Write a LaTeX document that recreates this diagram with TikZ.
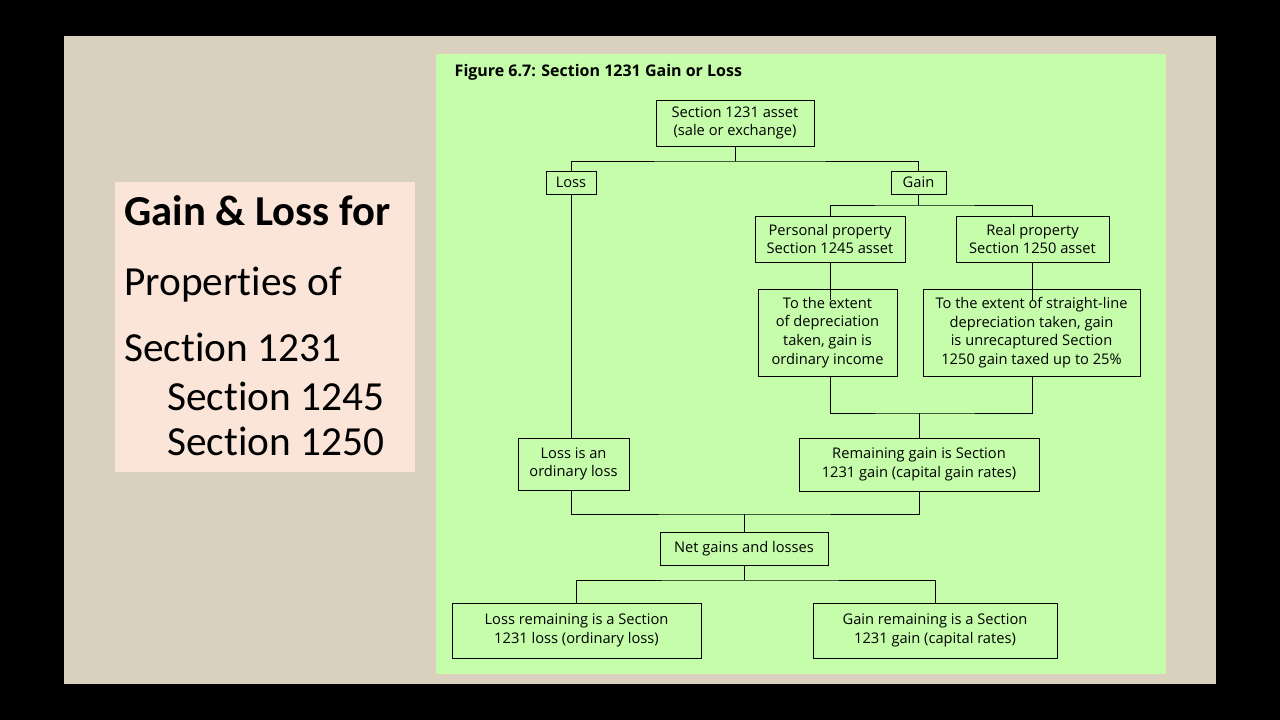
\documentclass[tikz,border=0pt]{standalone}
\usepackage{fontspec}
\setmainfont{Open Sans}
\newfontfamily\calib[Ligatures={NoCommon}]{Carlito}
\definecolor{bgbeige}{HTML}{D9D0BD}
\definecolor{panelgreen}{HTML}{C5FDAA}
\definecolor{pinkbox}{HTML}{FBE4D8}
\begin{document}
\begin{tikzpicture}[x=0.75pt,y=-0.75pt,
  bx/.style={draw=black,line width=0.7pt,align=center,font=\fontsize{11}{14}\selectfont,inner sep=0pt},
  ln/.style={draw=black,line width=0.7pt},
  lt/.style={anchor=base west,inner sep=0,font=\calib\fontsize{31}{34}\selectfont}]
\fill[black] (0,0) rectangle (1280,720);
\fill[bgbeige] (64,36) rectangle (1216,684);
\fill[panelgreen] (436,54) rectangle (1166,674);
\fill[pinkbox] (115,182) rectangle (415,472);
\node[anchor=west,font=\bfseries\fontsize{12}{14}\selectfont] (title) at (450,72) {Figure 6.7: Section 1231 Gain or Loss};
\node[lt,font=\calib\bfseries\fontsize{32}{34}\selectfont] (l1) at (124,226) {Gain \& Loss for};
\node[lt] (l2) at (124,295) {Proper\kern0pt ties of};
\node[lt] (l3) at (124,361) {Sec\kern0pt tion 1231};
\node[lt] (l4) at (167,410) {Sec\kern0pt tion 1245};
\node[lt] (l5) at (167,455) {Sec\kern0pt tion 1250};

\node[bx,minimum width=118.5pt,minimum height=34.5pt] (top) at (735,123) {Section 1231 asset\\(sale or exchange)};
\node[bx,minimum width=37.5pt,minimum height=17.25pt] (loss) at (571,182.5) {Loss};
\node[bx,minimum width=41.25pt,minimum height=17.25pt] (gain) at (918.5,182.5) {Gain};
\node[bx,minimum width=112.5pt,minimum height=34.5pt] (pers) at (830,239) {Personal property\\Section 1245 asset};
\node[bx,minimum width=114.75pt,minimum height=34.5pt] (real) at (1032.5,239) {Real property\\Section 1250 asset};
\node[bx,minimum width=104.25pt,minimum height=65.25pt] (ext1) at (827.5,332.5) {To the extent\\of depreciation\\taken, gain is\\ordinary income};
\node[bx,minimum width=162.75pt,minimum height=65.25pt] (ext2) at (1031.5,332.5) {To the extent of straight-line\\depreciation taken, gain\\is unrecaptured Section\\1250 gain taxed up to 25\%};
\node[bx,minimum width=83.25pt,minimum height=39pt] (ordl) at (573.5,464) {Loss is an\\ordinary loss};
\node[bx,minimum width=180pt,minimum height=39.75pt] (rem) at (919,464.5) {Remaining gain is Section\\1231 gain (capital gain rates)};
\node[bx,minimum width=126pt,minimum height=24.75pt] (net) at (744,548.5) {Net gains and losses};
\node[bx,minimum width=186.75pt,minimum height=41.25pt] (lrem) at (576.5,630.5) {Loss remaining is a Section\\1231 loss (ordinary loss)};
\node[bx,minimum width=183pt,minimum height=41.25pt] (grem) at (935,630.5) {Gain remaining is a Section\\1231 gain (capital rates)};

\draw[ln] (top.south) -- (735,161);
\draw[ln] (loss.north) |- (735,161) -| (gain.north);
\draw[ln] (gain.south) -- (918.5,205);
\draw[ln] (pers.north) |- (918.5,205) -| (real.north);
\draw[ln] (pers.south -| 830,0) -- (830,300);
\draw[ln] (real.south -| 1032,0) -- (1032,300);
\draw[ln] (loss.south) -- (571,438);
\draw[ln] (ext1.south -| 830,0) |- (919,413) -| (1032,376);
\draw[ln] (919,413) -- (rem.north);
\draw[ln] (ordl.south -| 571,0) |- (744,514) -| (rem.south);
\draw[ln] (744,514) -- (net.north);
\draw[ln] (net.south) -- (744,580);
\draw[ln] (lrem.north) |- (744,580) -| (grem.north);
\end{tikzpicture}
\end{document}
